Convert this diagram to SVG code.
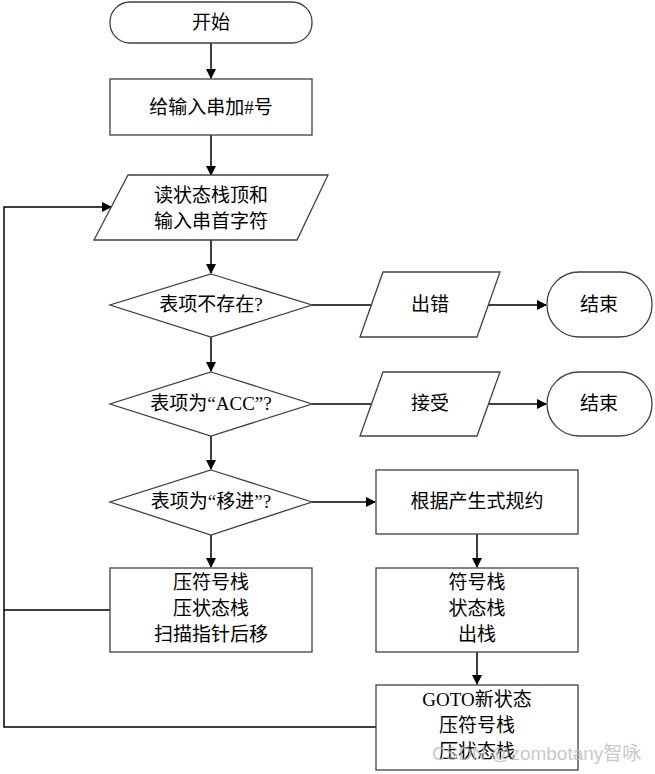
<svg xmlns="http://www.w3.org/2000/svg" width="655" height="774" viewBox="0 0 655 774">
<style>
.s{fill:#fff;stroke:#404040;stroke-width:1.3}
.t{font-family:"Liberation Serif","Noto Sans CJK SC",serif;font-size:19px;fill:#000;text-anchor:middle}
.c{fill:none;stroke:#000;stroke-width:1.5}
</style>
<defs><marker id="a" markerWidth="10" markerHeight="10" refX="9" refY="5" orient="auto" markerUnits="userSpaceOnUse"><path d="M0,0 L10,5 L0,10 Z" fill="#000"/></marker></defs>
<rect width="655" height="774" fill="#fff"/>
<g id="connectors">
<path class="c" d="M211,43 V78" marker-end="url(#a)"/>
<path class="c" d="M211,135 V175" marker-end="url(#a)"/>
<path class="c" d="M211,240 V273" marker-end="url(#a)"/>
<path class="c" d="M211,337 V371" marker-end="url(#a)"/>
<path class="c" d="M211,436 V469" marker-end="url(#a)"/>
<path class="c" d="M211,535 V567" marker-end="url(#a)"/>
<path class="c" d="M312,305 H383" marker-end="url(#a)"/>
<path class="c" d="M485,305 H546" marker-end="url(#a)"/>
<path class="c" d="M312,404 H383" marker-end="url(#a)"/>
<path class="c" d="M485,404 H546" marker-end="url(#a)"/>
<path class="c" d="M312,502 H375" marker-end="url(#a)"/>
<path class="c" d="M477,534 V567" marker-end="url(#a)"/>
<path class="c" d="M477,652 V684" marker-end="url(#a)"/>
<path class="c" d="M110,610 H4 V207 H111" marker-end="url(#a)"/>
<path class="c" d="M376,727 H4 V610"/>
</g>
<g id="start"><rect class="s" x="110" y="2" width="202" height="41" rx="20"/><text class="t" x="211" y="29">开始</text></g>
<g id="addhash"><rect class="s" x="110" y="79" width="202" height="56"/><text class="t" x="211" y="114">给输入串加#号</text></g>
<g id="read"><path class="s" d="M128,175 H328 L297,240 H94 Z"/><text class="t" x="211" y="202">读状态栈顶和</text><text class="t" x="211" y="228">输入串首字符</text></g>
<g id="d1"><path class="s" d="M211,274 L312,305 L211,337 L110,305 Z"/><text class="t" x="211" y="311">表项不存在?</text></g>
<g id="d2"><path class="s" d="M211,372 L312,404 L211,436 L110,404 Z"/><text class="t" x="211" y="410">表项为“ACC”?</text></g>
<g id="d3"><path class="s" d="M211,470 L312,502 L211,535 L110,502 Z"/><text class="t" x="211" y="508">表项为“移进”?</text></g>
<g id="shift"><rect class="s" x="110" y="568" width="202" height="84"/><text class="t" x="211" y="589">压符号栈</text><text class="t" x="211" y="615">压状态栈</text><text class="t" x="211" y="641">扫描指针后移</text></g>
<g id="error"><path class="s" d="M383,272 H500 L477,337 H360 Z"/><text class="t" x="430" y="311">出错</text></g>
<g id="end1"><rect class="s" x="547" y="272" width="105" height="65" rx="32"/><text class="t" x="599" y="311">结束</text></g>
<g id="accept"><path class="s" d="M383,372 H500 L477,436 H360 Z"/><text class="t" x="430" y="410">接受</text></g>
<g id="end2"><rect class="s" x="547" y="372" width="105" height="64" rx="32"/><text class="t" x="599" y="410">结束</text></g>
<g id="reduce"><rect class="s" x="376" y="470" width="202" height="64"/><text class="t" x="477" y="508">根据产生式规约</text></g>
<g id="pop"><rect class="s" x="376" y="568" width="202" height="84"/><text class="t" x="477" y="589">符号栈</text><text class="t" x="477" y="615">状态栈</text><text class="t" x="477" y="641">出栈</text></g>
<g id="goto"><rect class="s" x="376" y="685" width="202" height="85"/><text class="t" x="477" y="706">GOTO新状态</text><text class="t" x="477" y="732">压符号栈</text><text class="t" x="477" y="758">压状态栈</text></g>
<text x="432" y="760" style="font-family:'Liberation Sans','Noto Sans CJK SC',sans-serif;font-size:19px;fill:#bbb;opacity:0.8">CSDN @zombotany智咏</text>
</svg>
